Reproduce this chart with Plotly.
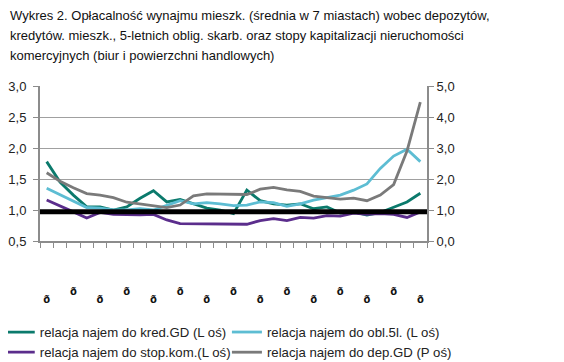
import numpy as np
import plotly.graph_objects as go

# ---- data ----
n_periods = 29
kred_gd = [1.78, 1.45, 1.24, 1.05, 1.05, 1.00, 1.05, 1.19, 1.31, 1.13,
           1.17, 1.10, 1.03, 1.00, 0.94, 1.32, 1.15, 1.10, 1.08, 1.10,
           1.02, 1.05, 0.95, 0.97, 0.92, 0.96, 1.05, 1.13, 1.27]
obl_5l = [1.35, 1.25, 1.15, 1.04, 1.03, 1.00, 1.00, 1.02, 1.00, 1.08,
          1.15, 1.10, 1.12, 1.10, 1.07, 1.08, 1.13, 1.12, 1.06, 1.10,
          1.16, 1.20, 1.24, 1.32, 1.42, 1.67, 1.87, 1.98, 1.78]
stop_kom = [1.16, 1.07, 0.97, 0.87, 0.96, 0.93, 0.92, 0.92, 0.93, 0.84,
            0.78, 0.78, 0.77, 0.78, 0.77, 0.77, 0.83, 0.86, 0.83, 0.88,
            0.87, 0.91, 0.90, 0.95, 0.93, 0.94, 0.93, 0.88, 0.97]
dep_gd = [2.20, 1.93, 1.72, 1.53, 1.48, 1.40, 1.25, 1.19, 1.15, 1.08,
          1.16, 1.46, 1.52, 1.52, 1.51, 1.50, 1.67, 1.73, 1.65, 1.60,
          1.45, 1.39, 1.35, 1.38, 1.30, 1.48, 1.82, 2.90, 4.48]
ref_level = 0.97
tick_labels = ["ð"] * 15
title_lines = [
    "Wykres 2. Opłacalność wynajmu mieszk. (średnia w 7 miastach) wobec depozytów,",
    "kredytów. mieszk., 5-letnich oblig. skarb. oraz stopy kapitalizacji nieruchomości",
    "komercyjnych (biur i powierzchni handlowych)",
]
names = ["relacja najem do kred.GD (L oś)", "relacja najem do obl.5l. (L oś)",
         "relacja najem do stop.kom.(L oś)", "relacja najem do dep.GD (P oś)"]
colors = ["#0b7a6c", "#5dbdd3", "#5b2d8c", "#7a7a7a"]
legend_col = ["legend", "legend2", "legend", "legend2"]

FONT = "Liberation Sans, Arial, sans-serif"
x = np.arange(n_periods)
label_idx = np.arange(0, n_periods, 2)

fig = go.Figure()
series = [(kred_gd, "y"), (obl_5l, "y"), (stop_kom, "y"), (dep_gd, "y2")]
for (vals, ax), nm, c, lg in zip(series, names, colors, legend_col):
    fig.add_trace(go.Scatter(x=x, y=vals, name=nm, mode="lines", yaxis=ax,
                             legend=lg, line=dict(color=c, width=2.8)))

# carriers for the two staggered rows of category labels
for xa in ("x2", "x3"):
    fig.add_trace(go.Scatter(x=[0], y=[None], xaxis=xa, yaxis="y", mode="lines",
                             showlegend=False, hoverinfo="skip"))

fig.add_shape(type="line", xref="paper", x0=0, x1=1, yref="y",
              y0=ref_level, y1=ref_level, line=dict(color="black", width=5),
              layer="above")

for i, t in enumerate(title_lines):
    fig.add_annotation(text=t, xref="paper", yref="paper", x=-0.083,
                       y=1.458 - i * 0.129, xanchor="left", yanchor="middle",
                       showarrow=False, font=dict(family=FONT, size=13, color="#111"))

axis_col = "#8c8c8c"
grid_col = "#a0a0a0"
xr = [-0.5, n_periods - 0.5]
lab_font = dict(size=10, color="#111", family="DejaVu Sans", weight="bold")
leg_common = dict(orientation="v", yanchor="top", xanchor="left", itemwidth=30,
                  font=dict(size=13.2, color="#222"), bgcolor="rgba(0,0,0,0)",
                  tracegroupgap=0)
fig.update_layout(
    width=556, height=354,
    margin=dict(l=32, r=137, t=78, b=121, autoexpand=False),
    paper_bgcolor="white", plot_bgcolor="white",
    separators=", ",
    font=dict(family=FONT, size=13, color="#222"),
    showlegend=True,
    legend=dict(x=-0.104, y=-0.49, **leg_common),
    legend2=dict(x=0.483, y=-0.49, **leg_common),
    xaxis=dict(range=xr, tickvals=np.arange(-0.5, n_periods, 1), showticklabels=False,
               ticks="outside", ticklen=5, tickcolor=axis_col, showgrid=False,
               zeroline=False, showline=True, linecolor=axis_col, linewidth=2),
    xaxis2=dict(overlaying="x", anchor="y", side="bottom", range=xr,
                tickvals=label_idx[0::2], ticktext=tick_labels[0::2],
                ticks="outside", ticklen=49, tickcolor="rgba(0,0,0,0)",
                showgrid=False, zeroline=False, showline=False, tickfont=lab_font),
    xaxis3=dict(overlaying="x", anchor="y", side="bottom", range=xr,
                tickvals=label_idx[1::2], ticktext=tick_labels[1::2],
                ticks="outside", ticklen=41, tickcolor="rgba(0,0,0,0)",
                showgrid=False, zeroline=False, showline=False, tickfont=lab_font),
    yaxis=dict(range=[0.5, 3.0], dtick=0.5, tick0=0.5, tickformat=".1f",
               ticks="outside", ticklen=5, tickcolor=axis_col, showgrid=True,
               gridcolor=grid_col, gridwidth=1, zeroline=False, showline=True,
               linecolor=axis_col, linewidth=2, ticklabelstandoff=4),
    yaxis2=dict(range=[0, 5], dtick=1, tickformat=".1f", overlaying="y", side="right",
                ticks="outside", ticklen=5, tickcolor=axis_col, showgrid=False,
                zeroline=False, showline=True, linecolor=axis_col, linewidth=2),
)
fig.write_html("out.html")
